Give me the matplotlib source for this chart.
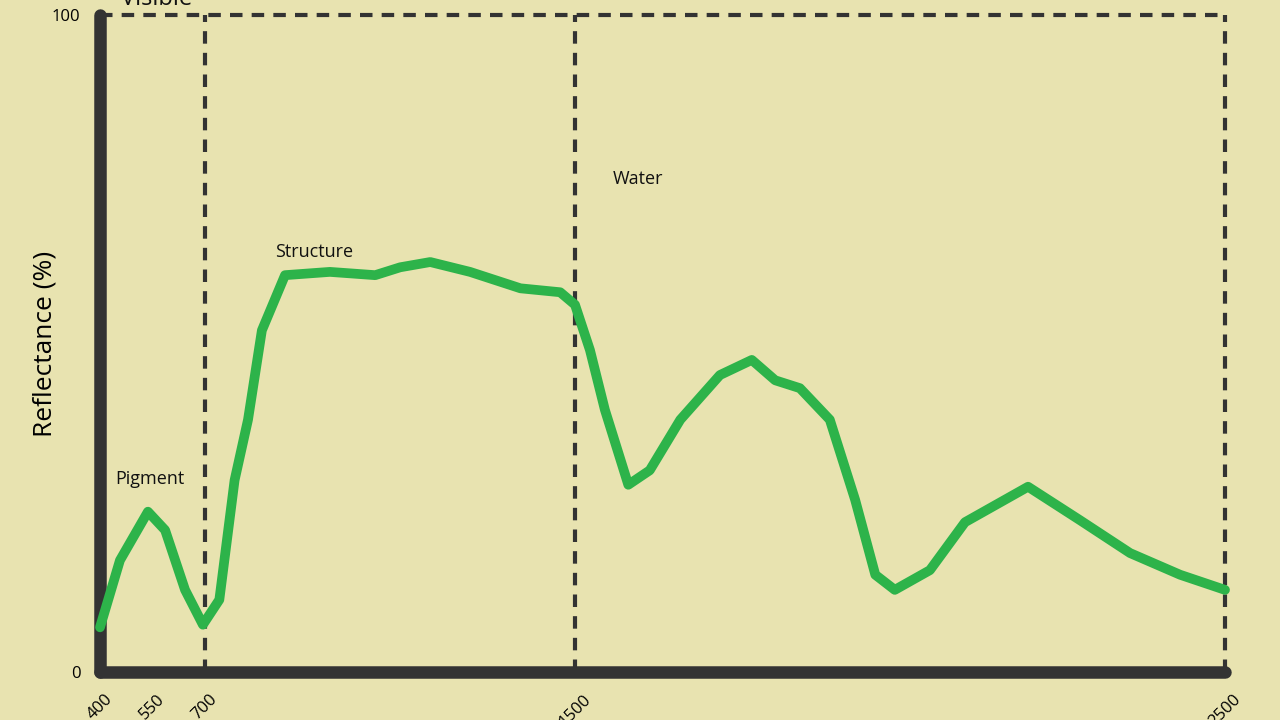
import numpy as np
import matplotlib
matplotlib.use("Agg")
import matplotlib.pyplot as plt

wavelength = [400, 457, 537, 586, 643, 694, 731, 764, 793, 823, 873, 970, 1068, 1122, 1187,
              1273, 1382, 1468, 1500, 1523, 1546, 1582, 1615, 1662, 1723, 1772, 1808, 1846,
              1892, 1931, 1962, 1992, 2046, 2100, 2197, 2277, 2354, 2431, 2500]
reflectance = [6.8, 17, 24.4, 21.6, 12.5, 7.2, 11, 29.2, 38.4, 52, 60.4, 60.9, 60.4, 61.6, 62.4,
               60.9, 58.4, 57.8, 55.9, 49, 39.9, 28.5, 30.7, 38.4, 45.2, 47.5, 44.4, 43.2,
               38.4, 26.2, 14.8, 12.5, 15.5, 22.8, 28.2, 23.1, 18.1, 14.8, 12.5]
tick_vals = [400, 550, 700, 1500, 2500]
region_lines = [700, 1500, 2500]
labels = [("Pigment", 443, 29.3), ("Structure", 851, 64), ("Water", 1558, 75)]

# piecewise display scale
kn = np.array([400, 700, 1500, 2500])
pn = np.array([0, 105, 475, 1125])
fwd = lambda x: np.interp(x, kn, pn)
inv = lambda p: np.interp(p, pn, kn)

bg = "#E8E3B0"
fig = plt.figure(figsize=(12.8, 7.2), dpi=100, facecolor=bg)
ax = fig.add_axes([100/1280, 48/720, 1125/1280, 657/720], facecolor=bg)
ax.set_xscale("function", functions=(fwd, inv))
ax.set_xlim(400, 2500)
ax.set_ylim(0, 100)

for v in region_lines:
    ax.axvline(v, color="#333333", lw=3, ls=(0, (3, 2.2)), zorder=1, clip_on=False)
ax.axhline(100, color="#333333", lw=3, ls=(0, (3, 2.2)), zorder=1, clip_on=False)

ax.plot(wavelength, reflectance, color="#2DB34A", lw=7, solid_joinstyle="round",
        solid_capstyle="round", zorder=3, clip_on=False)

for t, x, y in labels:
    ax.text(x, y, t, fontsize=13, color="#111111", ha="left", va="center", family="Open Sans")
ax.text(460, 101.5, "Visible", fontsize=17, color="#111111", family="Open Sans")

for s in ["top", "right"]:
    ax.spines[s].set_visible(False)
for s in ["left", "bottom"]:
    ax.spines[s].set_linewidth(9)
    ax.spines[s].set_color("#333333")
    ax.spines[s].set_capstyle("round")

ax.set_xticks(tick_vals)
ax.set_xticklabels([str(v) for v in tick_vals], rotation=45, ha="center", va="top",
                   fontsize=12, family="Open Sans")
for lab in ax.get_xticklabels():
    lab.set_rotation_mode("default")
ax.set_yticks([0, 100])
ax.set_yticklabels(["0", "100"], fontsize=12, family="Open Sans")
ax.tick_params(axis="y", length=0, pad=14)
ax.tick_params(axis="x", length=0, pad=14)
ax.set_ylabel("Reflectance (%)", fontsize=19, family="Open Sans")
ax.yaxis.set_label_coords(-0.038, 0.5)

fig.savefig("out.png", dpi=100, facecolor=bg)
